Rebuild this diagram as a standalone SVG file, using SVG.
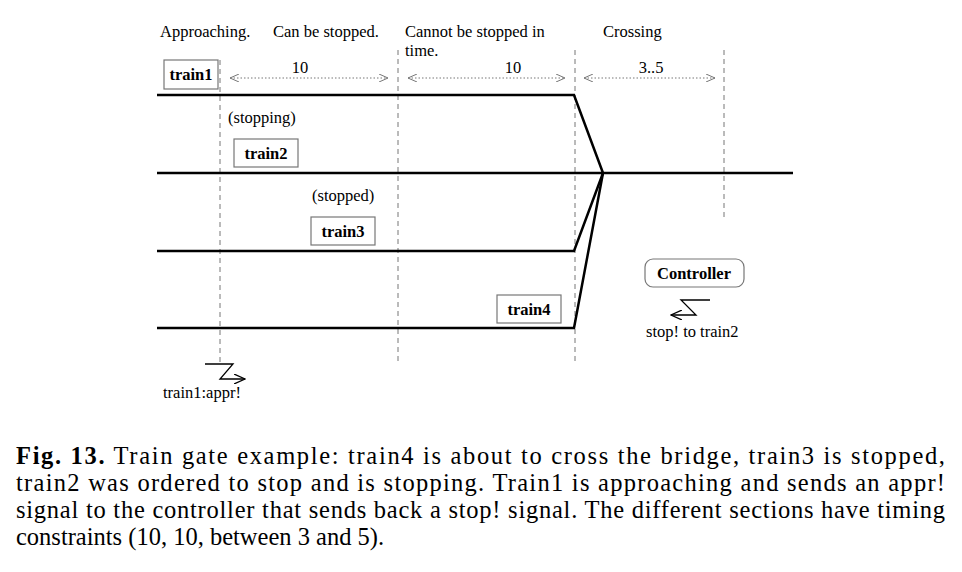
<svg xmlns="http://www.w3.org/2000/svg" width="962" height="572" viewBox="0 0 962 572">
<defs>
<style>
text{font-family:"Liberation Serif","Times New Roman",serif;fill:#000}
.l{font-size:16.5px}
.b{font-size:16.5px;font-weight:bold}
.c{font-size:24.5px}
.dash{stroke:#777;stroke-width:1;stroke-dasharray:5,4;fill:none}
.dot{stroke:#777;stroke-width:1;stroke-dasharray:1.5,2;fill:none}
.track{stroke:#000;stroke-width:2.5;fill:none}
.box{fill:#fff;stroke:#777;stroke-width:1.2}
.sig{stroke:#000;stroke-width:1.3;fill:none}
</style>
<marker id="oa" markerWidth="10" markerHeight="8" refX="9" refY="4" orient="auto-start-reverse" markerUnits="userSpaceOnUse"><path d="M0,0 L9,4 L0,8" fill="none" stroke="#777" stroke-width="1"/></marker>
<marker id="sa" markerWidth="12" markerHeight="10" refX="11" refY="5" orient="auto" markerUnits="userSpaceOnUse"><path d="M0,0 L11,5 L0,10" fill="none" stroke="#000" stroke-width="1.3"/></marker>
</defs>
<g id="labels">
<text class="l" x="160" y="37">Approaching.</text>
<text class="l" x="273" y="37">Can be stopped.</text>
<text class="l" x="405" y="37">Cannot be stopped in</text>
<text class="l" x="405" y="56">time.</text>
<text class="l" x="603" y="37">Crossing</text>
</g>
<g id="connectors">
<line class="dash" x1="220" y1="60" x2="220" y2="362"/>
<line class="dash" x1="398" y1="50" x2="398" y2="362"/>
<line class="dash" x1="575" y1="50" x2="575" y2="362"/>
<line class="dash" x1="724" y1="50" x2="724" y2="218"/>
<line class="dot" x1="230" y1="78" x2="388" y2="78" marker-start="url(#oa)" marker-end="url(#oa)"/>
<line class="dot" x1="408" y1="78" x2="565" y2="78" marker-start="url(#oa)" marker-end="url(#oa)"/>
<line class="dot" x1="584" y1="78" x2="715" y2="78" marker-start="url(#oa)" marker-end="url(#oa)"/>
<text class="l" x="300" y="73" text-anchor="middle">10</text>
<text class="l" x="513" y="73" text-anchor="middle">10</text>
<text class="l" x="651" y="73" text-anchor="middle">3..5</text>
<polyline class="track" points="157,95 574,95 603,173"/>
<line class="track" x1="157" y1="173" x2="793" y2="173"/>
<polyline class="track" points="157,251 574,251 603,173"/>
<polyline class="track" points="157,328 574,328 603,173"/>
<polyline class="sig" points="205,364 233,364 220,379 245,379" marker-end="url(#sa)"/>
<text class="l" x="163" y="398">train1:appr!</text>
<polyline class="sig" points="710,300 681,300 696,315 671,315" marker-end="url(#sa)"/>
<text class="l" x="646" y="337">stop! to train2</text>
</g>
<g id="train1"><rect class="box" x="164" y="60" width="54" height="29"/><text class="b" x="191" y="80" text-anchor="middle">train1</text></g>
<g id="train2"><text class="l" x="228" y="123">(stopping)</text><rect class="box" x="234" y="139" width="64" height="28"/><text class="b" x="266" y="159" text-anchor="middle">train2</text></g>
<g id="train3"><text class="l" x="312" y="201">(stopped)</text><rect class="box" x="311" y="217" width="64" height="28"/><text class="b" x="343" y="237" text-anchor="middle">train3</text></g>
<g id="train4"><rect class="box" x="497" y="295" width="64" height="28"/><text class="b" x="529" y="315" text-anchor="middle">train4</text></g>
<g id="controller"><rect class="box" x="645" y="259" width="99" height="28" rx="8"/><text class="b" x="694" y="279" text-anchor="middle">Controller</text></g>
<g id="caption">
<text class="c" x="16" y="464" textLength="929" lengthAdjust="spacing"><tspan font-weight="bold">Fig. 13.</tspan> Train gate example: train4 is about to cross the bridge, train3 is stopped,</text>
<text class="c" x="16" y="491" textLength="929" lengthAdjust="spacing">train2 was ordered to stop and is stopping. Train1 is approaching and sends an appr!</text>
<text class="c" x="16" y="518" textLength="929" lengthAdjust="spacing">signal to the controller that sends back a stop! signal. The different sections have timing</text>
<text class="c" x="16" y="545">constraints (10, 10, between 3 and 5).</text>
</g>
</svg>
